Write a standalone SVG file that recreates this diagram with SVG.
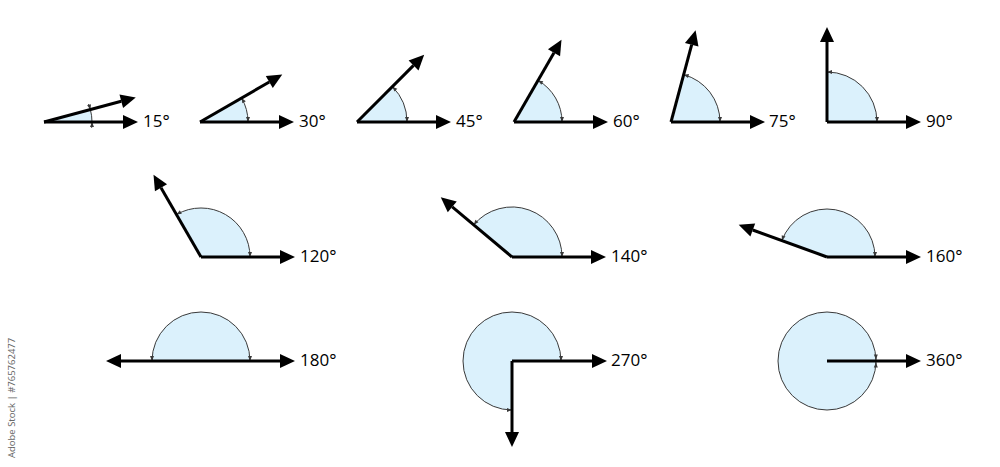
<svg xmlns="http://www.w3.org/2000/svg" width="1000" height="467" viewBox="0 0 1000 467">
<style>
.sec{fill:#dbf1fc;stroke:none}
.arc{fill:none;stroke:#3a3a3a;stroke-width:1}
.arcm{fill:none;stroke:#3a3a3a;stroke-width:1;marker-start:url(#tip);marker-end:url(#tip)}
.ext{fill:none;stroke:#3a3a3a;stroke-width:1;marker-end:url(#tip)}
.ray{stroke:#000;stroke-width:3;fill:none;marker-end:url(#arr)}
.lbl{font-family:"Open Sans","Liberation Sans",sans-serif;font-size:17px;fill:#000}
.wm{font-family:"Open Sans","Liberation Sans",sans-serif;font-size:9.5px;fill:#666}
</style>
<defs>
<marker id="arr" markerUnits="userSpaceOnUse" markerWidth="16" markerHeight="14" refX="0" refY="7" orient="auto" overflow="visible">
<path d="M0,0 L15,7 L0,14 Z" fill="#000"/>
</marker>
<marker id="tip" markerUnits="userSpaceOnUse" markerWidth="6" markerHeight="5" refX="5" refY="2" orient="auto-start-reverse" overflow="visible">
<path d="M0,0 L5,2 L0,4 Z" fill="#3a3a3a"/>
</marker>
</defs>
<rect width="1000" height="467" fill="#fff"/>

<g id="a15" transform="translate(44,122)">
<path class="sec" d="M0,0 L48,0 A48,48 0 0 0 46.36,-12.42 Z"/>
<path class="arc" d="M48,0 A48,48 0 0 0 46.36,-12.42"/>
<path class="ext" d="M44.50,-17.98 A48,48 0 0 1 46.36,-12.42"/>
<path class="ext" d="M47.64,5.85 A48,48 0 0 0 48,0"/>
<line class="ray" x1="0" y1="0" x2="79" y2="0"/>
<line class="ray" x1="0" y1="0" x2="80" y2="0" transform="rotate(-15)"/>
<text class="lbl" x="99" y="4.5">15°</text>
</g>

<g id="a30" transform="translate(200,122)">
<path class="sec" d="M0,0 L48,0 A48,48 0 0 0 41.57,-24 Z"/>
<path class="arcm" d="M48,0 A48,48 0 0 0 41.57,-24"/>
<line class="ray" x1="0" y1="0" x2="79" y2="0"/>
<line class="ray" x1="0" y1="0" x2="80" y2="0" transform="rotate(-30)"/>
<text class="lbl" x="99" y="4.5">30°</text>
</g>

<g id="a45" transform="translate(357,122)">
<path class="sec" d="M0,0 L50,0 A50,50 0 0 0 35.36,-35.36 Z"/>
<path class="arcm" d="M50,0 A50,50 0 0 0 35.36,-35.36"/>
<line class="ray" x1="0" y1="0" x2="79" y2="0"/>
<line class="ray" x1="0" y1="0" x2="80" y2="0" transform="rotate(-45)"/>
<text class="lbl" x="99" y="4.5">45°</text>
</g>

<g id="a60" transform="translate(514,122)">
<path class="sec" d="M0,0 L48,0 A48,48 0 0 0 24,-41.57 Z"/>
<path class="arcm" d="M48,0 A48,48 0 0 0 24,-41.57"/>
<line class="ray" x1="0" y1="0" x2="79" y2="0"/>
<line class="ray" x1="0" y1="0" x2="80" y2="0" transform="rotate(-60)"/>
<text class="lbl" x="99" y="4.5">60°</text>
</g>

<g id="a75" transform="translate(671,122)">
<path class="sec" d="M0,0 L49,0 A49,49 0 0 0 12.68,-47.33 Z"/>
<path class="arcm" d="M49,0 A49,49 0 0 0 12.68,-47.33"/>
<line class="ray" x1="0" y1="0" x2="79" y2="0"/>
<line class="ray" x1="0" y1="0" x2="80" y2="0" transform="rotate(-75)"/>
<text class="lbl" x="98" y="4.5">75°</text>
</g>

<g id="a90" transform="translate(827,122)">
<path class="sec" d="M0,0 L50,0 A50,50 0 0 0 0,-50 Z"/>
<path class="arcm" d="M50,0 A50,50 0 0 0 0,-50"/>
<line class="ray" x1="0" y1="0" x2="79" y2="0"/>
<line class="ray" x1="0" y1="0" x2="80" y2="0" transform="rotate(-90)"/>
<text class="lbl" x="99" y="4.5">90°</text>
</g>

<g id="a120" transform="translate(201,257)">
<path class="sec" d="M0,0 L49,0 A49,49 0 0 0 -24.5,-42.44 Z"/>
<path class="arcm" d="M49,0 A49,49 0 0 0 -24.5,-42.44"/>
<line class="ray" x1="0" y1="0" x2="79" y2="0"/>
<line class="ray" x1="0" y1="0" x2="80" y2="0" transform="rotate(-120)"/>
<text class="lbl" x="99" y="4.5">120°</text>
</g>

<g id="a140" transform="translate(512,257)">
<path class="sec" d="M0,0 L50,0 A50,50 0 0 0 -38.30,-32.14 Z"/>
<path class="arcm" d="M50,0 A50,50 0 0 0 -38.30,-32.14"/>
<line class="ray" x1="0" y1="0" x2="79" y2="0"/>
<line class="ray" x1="0" y1="0" x2="78" y2="0" transform="rotate(-140)"/>
<text class="lbl" x="99" y="4.5">140°</text>
</g>

<g id="a160" transform="translate(827,257)">
<path class="sec" d="M0,0 L48,0 A48,48 0 0 0 -45.10,-16.42 Z"/>
<path class="arcm" d="M48,0 A48,48 0 0 0 -45.10,-16.42"/>
<line class="ray" x1="0" y1="0" x2="79" y2="0"/>
<line class="ray" x1="0" y1="0" x2="79" y2="0" transform="rotate(-160)"/>
<text class="lbl" x="99" y="4.5">160°</text>
</g>

<g id="a180" transform="translate(201,361)">
<path class="sec" d="M0,0 L49,0 A49,49 0 0 0 -49,0 Z"/>
<path class="arcm" d="M49,0 A49,49 0 0 0 -49,0"/>
<line class="ray" x1="0" y1="0" x2="79" y2="0"/>
<line class="ray" x1="0" y1="0" x2="80" y2="0" transform="rotate(-180)"/>
<text class="lbl" x="99" y="4.5">180°</text>
</g>

<g id="a270" transform="translate(512,361)">
<path class="sec" d="M0,0 L49,0 A49,49 0 1 0 0,49 Z"/>
<path class="arcm" d="M49,0 A49,49 0 1 0 0,49"/>
<line class="ray" x1="0" y1="0" x2="80" y2="0"/>
<line class="ray" x1="0" y1="0" x2="71" y2="0" transform="rotate(90)"/>
<text class="lbl" x="99" y="4.5">270°</text>
</g>

<g id="a360" transform="translate(827,361)">
<circle class="sec" cx="0" cy="0" r="49"/>
<circle class="arc" cx="0" cy="0" r="49"/>
<path class="ext" d="M48.63,-5.97 A49,49 0 0 1 49,-1.5"/>
<path class="ext" d="M48.63,5.97 A49,49 0 0 0 49,1.5"/>
<line class="ray" x1="0" y1="0" x2="79" y2="0"/>
<text class="lbl" x="99" y="4.5">360°</text>
</g>

<text class="wm" transform="translate(15,458) rotate(-90)">Adobe Stock | #765762477</text>
</svg>
